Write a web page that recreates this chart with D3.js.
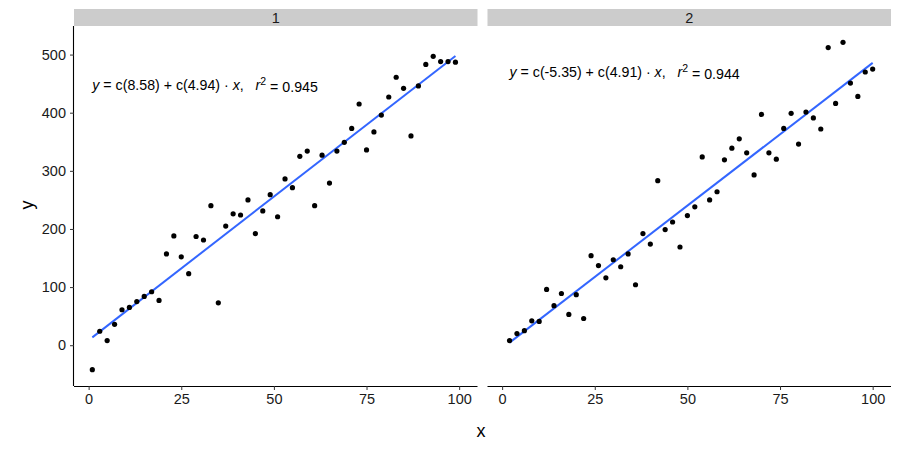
<!DOCTYPE html>
<html>
<head>
<meta charset="utf-8">
<script src="https://cdn.jsdelivr.net/npm/d3@7"></script>
<style>
  body { margin: 0; background: #fff; }
  svg { font-family: "Liberation Sans", Arial, sans-serif; }
  .eq { white-space: pre; }
</style>
</head>
<body>
<div id="chart"></div>
<script>
// panel labels
const panels = ["1", "2"];

// panel 1: odd x, panel 2: even x
const x1 = [1,3,5,7,9,11,13,15,17,19,21,23,25,27,29,31,33,35,37,39,41,43,45,47,49,
            51,53,55,57,59,61,63,65,67,69,71,73,75,77,79,81,83,85,87,89,91,93,95,97,99];
const y1 = [-42,24,8,36,61,65,75,84,92,77,157,188,152,123,187,181,240,73,205,226,224,250,192,231,259,
            221,286,271,325,334,240,327,279,334,349,373,415,336,367,396,427,461,442,360,446,483,497,488,488,487];

const x2 = [2,4,6,8,10,12,14,16,18,20,22,24,26,28,30,32,34,36,38,40,42,44,46,48,50,
            52,54,56,58,60,62,64,66,68,70,72,74,76,78,80,82,84,86,88,90,92,94,96,98,100];
const y2 = [8,20,25,42,41,96,68,89,53,87,46,154,137,116,147,135,157,104,192,174,283,199,212,169,223,
            238,324,250,264,319,339,355,331,293,397,331,320,373,399,346,401,391,372,512,416,521,451,428,470,475];

// fitted coefficients, as printed in the labels
const intercepts = [8.58, -5.35];
const slopes = [4.94, 4.91];
const r2 = ["0.945", "0.944"];
const labelY = [448, 470];

const xTicks = [0, 25, 50, 75, 100];
const yTicks = [0, 100, 200, 300, 400, 500];

const W = 900, H = 450;
const plotTop = 26, plotBottom = 386;
const panelW = 403.5;
const panelLeft = [74, 487.5];

const svg = d3.select("#chart").append("svg")
  .attr("width", W).attr("height", H);

const xs = [x1, x2], ys = [y1, y2];

function expand(ext) {
  const d = (ext[1] - ext[0]) * 0.05;
  return [ext[0] - d, ext[1] + d];
}

const y = d3.scaleLinear()
  .domain(expand(d3.extent(y1.concat(y2))))
  .range([plotBottom, plotTop]);

const xDomain = expand(d3.extent(x1.concat(x2)));

panels.forEach((p, i) => {
  const x = d3.scaleLinear().domain(xDomain)
    .range([panelLeft[i], panelLeft[i] + panelW]);

  // strip
  svg.append("rect")
    .attr("x", panelLeft[i]).attr("y", 9)
    .attr("width", panelW).attr("height", 17)
    .attr("fill", "#cccccc");
  svg.append("text")
    .attr("x", panelLeft[i] + panelW / 2).attr("y", 17.5)
    .attr("dy", "0.36em")
    .attr("text-anchor", "middle")
    .attr("font-size", 14.5)
    .attr("fill", "#1a1a1a")
    .text(p);

  // x axis
  const gx = svg.append("g")
    .attr("transform", "translate(0," + plotBottom + ")")
    .call(d3.axisBottom(x).tickValues(xTicks).tickSize(4).tickPadding(4));
  gx.select(".domain").attr("stroke", "#000").attr("stroke-width", 1.1)
    .attr("d", "M" + panelLeft[i] + ",0.5H" + (panelLeft[i] + panelW));
  gx.selectAll(".tick line").attr("stroke", "#333");
  gx.selectAll(".tick text").attr("font-size", 14.5).attr("fill", "#1a1a1a")
    .attr("font-family", "Liberation Sans, Arial, sans-serif");

  if (i === 0) {
    const gy = svg.append("g")
      .attr("transform", "translate(" + panelLeft[i] + ",0)")
      .call(d3.axisLeft(y).tickValues(yTicks).tickSize(4).tickPadding(4));
    gy.select(".domain").attr("stroke", "#000").attr("stroke-width", 1.1)
      .attr("d", "M-0.5," + plotTop + "V" + plotBottom);
    gy.selectAll(".tick line").attr("stroke", "#333");
    gy.selectAll(".tick text").attr("font-size", 14.5).attr("fill", "#1a1a1a")
      .attr("font-family", "Liberation Sans, Arial, sans-serif");
  }

  // regression line
  const ext = d3.extent(xs[i]);
  const line = d3.line().x(d => x(d)).y(d => y(intercepts[i] + slopes[i] * d));
  svg.append("path")
    .attr("d", line(ext))
    .attr("fill", "none")
    .attr("stroke", "#3366ff")
    .attr("stroke-width", 2);

  // points
  svg.append("g").selectAll("circle")
    .data(xs[i].map((v, j) => [v, ys[i][j]]))
    .join("circle")
    .attr("cx", d => x(d[0]))
    .attr("cy", d => y(d[1]))
    .attr("r", 2.6)
    .attr("fill", "#000");

  // equation label
  const t = svg.append("text")
    .attr("class", "eq")
    .attr("x", x(ext[0]))
    .attr("y", y(labelY[i]))
    .attr("dy", "0.36em")
    .attr("font-size", 14.2)
    .attr("fill", "#000");
  t.append("tspan").attr("font-style", "italic").text("y");
  t.append("tspan").text(" = c(" + intercepts[i].toFixed(2) + ") + c(" + slopes[i].toFixed(2) + ") \u00b7 ");
  t.append("tspan").attr("font-style", "italic").text("x");
  t.append("tspan").text(",   ");
  t.append("tspan").attr("font-style", "italic").text("r");
  t.append("tspan").attr("dy", "-0.45em").attr("font-size", 10.5).text("2");
  t.append("tspan").attr("dy", "0.45em").text(" = " + r2[i]);
});

// axis titles
svg.append("text")
  .attr("x", 481).attr("y", 431)
  .attr("dy", "0.36em")
  .attr("text-anchor", "middle")
  .attr("font-size", 18)
  .attr("fill", "#000")
  .text("x");
svg.append("text")
  .attr("transform", "translate(27,205) rotate(-90)")
  .attr("dy", "0.36em")
  .attr("text-anchor", "middle")
  .attr("font-size", 18)
  .attr("fill", "#000")
  .text("y");
</script>
</body>
</html>
